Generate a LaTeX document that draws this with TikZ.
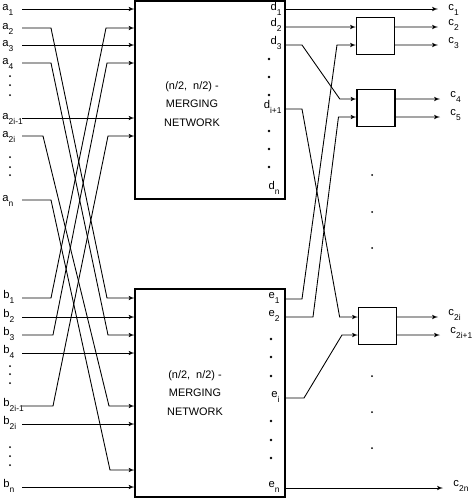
\documentclass[tikz,border=0pt]{standalone}
\usepackage{fontspec}
\setmainfont{Liberation Sans}
\usetikzlibrary{positioning}
\usetikzlibrary{arrows}
\tikzset{>=latex'}
\tikzset{lab/.style={inner sep=0pt,font=\fontsize{9.6}{11}\selectfont}}
\tikzset{netbox/.style={draw,rectangle,minimum width=4.5cm,inner sep=0pt,line width=0.9pt}}
\tikzset{cmp/.style={draw,rectangle,minimum width=1.14cm,minimum height=1.1cm,inner sep=0pt,line width=0.9pt}}
\newcommand{\lsub}[1]{\raisebox{-0.85ex}{\fontsize{7.2}{8}\selectfont #1}}

\begin{document}
\begin{tikzpicture}[x=0.03cm,y=-0.03cm,line width=0.75pt]
\useasboundingbox (0,0) rectangle (474,500);

% the two merging networks
\node (mtop) [netbox, minimum height=5.94cm] at (210,100) {};
\node (mbot) [netbox, minimum height=6.24cm] at (210,393) {};
\node (ttop) [lab, align=center, font=\fontsize{9.3}{15.5}\selectfont] at (192,104) {(n/2,\ \ n/2) -\\MERGING\\NETWORK};
\node (tbot) [lab, align=center, font=\fontsize{9.3}{15.5}\selectfont] at (195,393) {(n/2,\ \ n/2) -\\MERGING\\NETWORK};

% inputs
\foreach \n/\y/\s in {a1/9/1, a2/28/2, a3/45/3, a4/63/4, a2im/118/2i-1, a2i/136/2i, an/200/n} {
  \coordinate (\n) at (22,\y);
  \node (l\n) [lab, anchor=base west] at (2,\y+1) {a\lsub{\s}};
}
\foreach \n/\y/\s in {b1/298/1, b2/317/2, b3/335/3, b4/353/4, b2im/406/2i-1, b2i/424/2i, bn/487/n} {
  \coordinate (\n) at (22,\y);
  \node (l\n) [lab, anchor=base west] at (3,\y) {b\lsub{\s}};
}
\foreach \y in {76,85,95,157,167,175,366,374,383,447,456,465}
  \fill (10,\y) circle (0.03cm);

\draw[->] (a1) -- (mtop.west |- a1);
\draw[->] (a3) -- (mtop.west |- a3);
\draw[->] (a2im) -- (mtop.west |- a2im);
\draw[->] (b2) -- (mbot.west |- b2);
\draw[->] (b4) -- (mbot.west |- b4);
\draw[->] (b2i) -- (mbot.west |- b2i);
\draw[->] (bn) -- (mbot.west |- bn);

\coordinate (anin) at (110,470);
\draw[->] (a2) -- ++(29,0) -- (107,298) -- (mbot.west |- b1);
\draw[->] (a4) -- ++(29,0) -- (108,335) -- (mbot.west |- b3);
\draw[->] (a2i) -- ++(21,0) -- (109,406) -- (mbot.west |- b2im);
\draw[->] (an) -- ++(29,0) -- (anin) -- (mbot.west |- anin);
\draw[->] (b1) -- ++(29,0) -- (106,28) -- (mtop.west |- a2);
\draw[->] (b3) -- ++(31,0) -- (107,63) -- (mtop.west |- a4);
\draw[->] (b2im) -- ++(31,0) -- (108,136) -- (mtop.west |- a2i);

% outputs of the networks
\foreach \n/\y/\ly/\s in {d1/9/10/1, d2/27/26/2, d3/45/44/3, dip/109/108/i+1} {
  \coordinate (\n) at (285,\y);
  \node (l\n) [lab, anchor=base east] at (282,\ly) {d\lsub{\s}};
}
\node (ldn) [lab, anchor=base east] at (280,189) {d\lsub{n}};
\foreach \n/\y/\s in {e1/299/1, e2/317/2, ei/398/i, en/488/n} {
  \coordinate (\n) at (285,\y);
  \node (l\n) [lab, anchor=base east] at (280,\y-1) {e\lsub{\s}};
}
\foreach \y in {59,77,95,131,149,167}
  \fill (269,\y) circle (0.04cm);
\foreach \y in {339,357,376,421,440,458}
  \fill (271,\y) circle (0.04cm);

% comparators
\node (cmp1) [cmp] at (375.5,36) {};
\node (cmp2) [cmp] at (376,108) {};
\node (cmp3) [cmp] at (377.5,326) {};
\foreach \m in {1,2,3} {
  \coordinate (in\m a) at ([yshift=0.27cm]cmp\m.west);
  \coordinate (in\m b) at ([yshift=-0.27cm]cmp\m.west);
  \coordinate (out\m a) at ([yshift=0.27cm]cmp\m.east);
  \coordinate (out\m b) at ([yshift=-0.27cm]cmp\m.east);
}
\foreach \y in {175,212,248,376,412,448}
  \fill (372,\y) circle (0.03cm);

\draw[->] (d2) -- (in1a);
\draw[->] (d3) -- ++(17,0) -- ([xshift=-0.5cm]in2a) -- (in2a);
\draw[->] (dip) -- ++(17,0) -- ([xshift=-0.55cm]in3a) -- (in3a);
\draw[->] (e1) -- ++(17,0) -- ([xshift=-0.57cm]in1b) -- (in1b);
\draw[->] (e2) -- ++(28,0) -- ([xshift=-0.54cm]in2b) -- (in2b);
\draw[->] (ei) -- ++(19,0) -- ([xshift=-0.48cm]in3b) -- (in3b);

% final outputs
\foreach \n/\x/\y/\ly/\s in {c1/438/9/10/1, c2/438/27/25/2, c3/438/45/43/3, c4/440/99/97/4, c5/440/117/115/5, c2i/438/317/315/2i, c2ia/440/335/333/2i+1, c2n/443/488/486/2n} {
  \coordinate (\n) at (\x,\y);
  \node (l\n) [lab, anchor=base west] at (\x+10,\ly) {c\lsub{\s}};
}
\draw[->] (d1) -- (c1);
\draw[->] (out1a) -- (c2);
\draw[->] (out1b) -- (c3);
\draw[->] (out2a) -- (c4);
\draw[->] (out2b) -- (c5);
\draw[->] (out3a) -- (c2i);
\draw[->] (out3b) -- (c2ia);
\draw[->] (en) -- (c2n);
\end{tikzpicture}
\end{document}
